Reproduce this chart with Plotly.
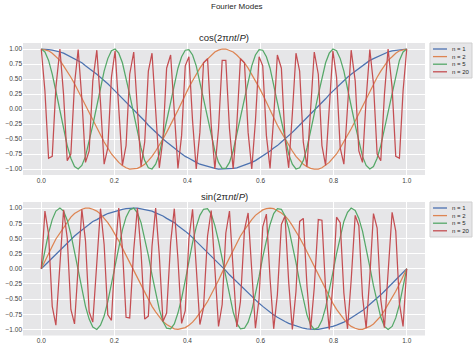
import plotly.graph_objects as go

# ---- data ----
t = [0.000,0.010,0.020,0.030,0.040,0.051,0.061,0.071,0.081,0.091,
     0.101,0.111,0.121,0.131,0.141,0.152,0.162,0.172,0.182,0.192,
     0.202,0.212,0.222,0.232,0.242,0.253,0.263,0.273,0.283,0.293,
     0.303,0.313,0.323,0.333,0.343,0.354,0.364,0.374,0.384,0.394,
     0.404,0.414,0.424,0.434,0.444,0.455,0.465,0.475,0.485,0.495,
     0.505,0.515,0.525,0.535,0.545,0.556,0.566,0.576,0.586,0.596,
     0.606,0.616,0.626,0.636,0.646,0.657,0.667,0.677,0.687,0.697,
     0.707,0.717,0.727,0.737,0.747,0.758,0.768,0.778,0.788,0.798,
     0.808,0.818,0.828,0.838,0.848,0.859,0.869,0.879,0.889,0.899,
     0.909,0.919,0.929,0.939,0.949,0.960,0.970,0.980,0.990,1.000]

cos_n1 = [1.00,1.00,0.99,0.98,0.97,0.95,0.93,0.90,0.87,0.84,
          0.81,0.77,0.72,0.68,0.63,0.58,0.53,0.47,0.42,0.36,
          0.30,0.24,0.17,0.11,0.05,-0.02,-0.08,-0.14,-0.20,-0.27,
          -0.33,-0.39,-0.44,-0.50,-0.55,-0.61,-0.65,-0.70,-0.75,-0.79,
          -0.82,-0.86,-0.89,-0.92,-0.94,-0.96,-0.98,-0.99,-1.00,-1.00,
          -1.00,-1.00,-0.99,-0.98,-0.96,-0.94,-0.92,-0.89,-0.86,-0.82,
          -0.79,-0.75,-0.70,-0.65,-0.61,-0.55,-0.50,-0.44,-0.39,-0.33,
          -0.27,-0.20,-0.14,-0.08,-0.02,0.05,0.11,0.17,0.24,0.30,
          0.36,0.42,0.47,0.53,0.58,0.63,0.68,0.72,0.77,0.81,
          0.84,0.87,0.90,0.93,0.95,0.97,0.98,0.99,1.00,1.00]

cos_n2 = [1.00,0.99,0.97,0.93,0.87,0.81,0.72,0.63,0.53,0.42,0.30,0.17,0.05,-0.08,-0.20,-0.33,-0.44,-0.55,-0.65,-0.75,-0.82,-0.89,-0.94,-0.98,-1.00,
          -1.00,-0.99,-0.96,-0.92,-0.86,-0.79,-0.70,-0.61,-0.50,-0.39,-0.27,-0.14,-0.02,0.11,0.24,0.36,0.47,0.58,0.68,0.77,0.84,0.90,0.95,0.98,1.00,
          1.00,0.98,0.95,0.90,0.84,0.77,0.68,0.58,0.47,0.36,0.24,0.11,-0.02,-0.14,-0.27,-0.39,-0.50,-0.61,-0.70,-0.79,-0.86,-0.92,-0.96,-0.99,-1.00,
          -1.00,-0.98,-0.94,-0.89,-0.82,-0.75,-0.65,-0.55,-0.44,-0.33,-0.20,-0.08,0.05,0.17,0.30,0.42,0.53,0.63,0.72,0.81,0.87,0.93,0.97,0.99,1.00]

cos_n5 = [1.00,0.95,0.81,0.58,0.30,-0.02,-0.33,-0.61,-0.82,-0.96,-1.00,-0.94,-0.79,-0.55,-0.27,0.05,0.36,0.63,0.84,0.97,
          1.00,0.93,0.77,0.53,0.24,-0.08,-0.39,-0.65,-0.86,-0.98,-1.00,-0.92,-0.75,-0.50,-0.20,0.11,0.42,0.68,0.87,0.98,
          0.99,0.90,0.72,0.47,0.17,-0.14,-0.44,-0.70,-0.89,-0.99,-0.99,-0.89,-0.70,-0.44,-0.14,0.17,0.47,0.72,0.90,0.99,
          0.98,0.87,0.68,0.42,0.11,-0.20,-0.50,-0.75,-0.92,-1.00,-0.98,-0.86,-0.65,-0.39,-0.08,0.24,0.53,0.77,0.93,1.00,
          0.97,0.84,0.63,0.36,0.05,-0.27,-0.55,-0.79,-0.94,-1.00,-0.96,-0.82,-0.61,-0.33,-0.02,0.30,0.58,0.81,0.95,1.00]

cos_n20 = [1.00,0.30,-0.82,-0.79,0.36,
           1.00,0.24,-0.86,-0.75,0.42,
           0.99,0.17,-0.89,-0.70,0.47,
           0.98,0.11,-0.92,-0.65,0.53,
           0.97,0.05,-0.94,-0.61,0.58,
           0.95,-0.02,-0.96,-0.55,0.63,
           0.93,-0.08,-0.98,-0.50,0.68,
           0.90,-0.14,-0.99,-0.44,0.72,
           0.87,-0.20,-1.00,-0.39,0.77,
           0.84,-0.27,-1.00,-0.33,0.81,
           0.81,-0.33,-1.00,-0.27,0.84,
           0.77,-0.39,-1.00,-0.20,0.87,
           0.72,-0.44,-0.99,-0.14,0.90,
           0.68,-0.50,-0.98,-0.08,0.93,
           0.63,-0.55,-0.96,-0.02,0.95,
           0.58,-0.61,-0.94,0.05,0.97,
           0.53,-0.65,-0.92,0.11,0.98,
           0.47,-0.70,-0.89,0.17,0.99,
           0.42,-0.75,-0.86,0.24,1.00,
           0.36,-0.79,-0.82,0.30,1.00]

sin_n1 = [0.00,0.06,0.13,0.19,0.25,0.31,0.37,0.43,0.49,0.54,
          0.59,0.64,0.69,0.73,0.78,0.81,0.85,0.88,0.91,0.93,
          0.95,0.97,0.98,0.99,1.00,1.00,1.00,0.99,0.98,0.96,
          0.95,0.92,0.90,0.87,0.83,0.80,0.76,0.71,0.67,0.62,
          0.57,0.51,0.46,0.40,0.34,0.28,0.22,0.16,0.10,0.03,
          -0.03,-0.10,-0.16,-0.22,-0.28,-0.34,-0.40,-0.46,-0.51,-0.57,
          -0.62,-0.67,-0.71,-0.76,-0.80,-0.83,-0.87,-0.90,-0.92,-0.95,
          -0.96,-0.98,-0.99,-1.00,-1.00,-1.00,-0.99,-0.98,-0.97,-0.95,
          -0.93,-0.91,-0.88,-0.85,-0.81,-0.78,-0.73,-0.69,-0.64,-0.59,
          -0.54,-0.49,-0.43,-0.37,-0.31,-0.25,-0.19,-0.13,-0.06,0.00]

sin_n2 = [0.00,0.13,0.25,0.37,0.49,0.59,0.69,0.78,0.85,0.91,0.95,0.98,1.00,1.00,0.98,0.95,0.90,0.83,0.76,0.67,0.57,0.46,0.34,0.22,0.10,
          -0.03,-0.16,-0.28,-0.40,-0.51,-0.62,-0.71,-0.80,-0.87,-0.92,-0.96,-0.99,-1.00,-0.99,-0.97,-0.93,-0.88,-0.81,-0.73,-0.64,-0.54,-0.43,-0.31,-0.19,-0.06,
          0.06,0.19,0.31,0.43,0.54,0.64,0.73,0.81,0.88,0.93,0.97,0.99,1.00,0.99,0.96,0.92,0.87,0.80,0.71,0.62,0.51,0.40,0.28,0.16,0.03,
          -0.10,-0.22,-0.34,-0.46,-0.57,-0.67,-0.76,-0.83,-0.90,-0.95,-0.98,-1.00,-1.00,-0.98,-0.95,-0.91,-0.85,-0.78,-0.69,-0.59,-0.49,-0.37,-0.25,-0.13,0.00]

sin_n5 = [0.00,0.31,0.59,0.81,0.95,1.00,0.95,0.80,0.57,0.28,-0.03,-0.34,-0.62,-0.83,-0.96,-1.00,-0.93,-0.78,-0.54,-0.25,
          0.06,0.37,0.64,0.85,0.97,1.00,0.92,0.76,0.51,0.22,-0.10,-0.40,-0.67,-0.87,-0.98,-0.99,-0.91,-0.73,-0.49,-0.19,
          0.13,0.43,0.69,0.88,0.98,0.99,0.90,0.71,0.46,0.16,-0.16,-0.46,-0.71,-0.90,-0.99,-0.98,-0.88,-0.69,-0.43,-0.13,
          0.19,0.49,0.73,0.91,0.99,0.98,0.87,0.67,0.40,0.10,-0.22,-0.51,-0.76,-0.92,-1.00,-0.97,-0.85,-0.64,-0.37,-0.06,
          0.25,0.54,0.78,0.93,1.00,0.96,0.83,0.62,0.34,0.03,-0.28,-0.57,-0.80,-0.95,-1.00,-0.95,-0.81,-0.59,-0.31,0.00]

sin_n20 = [0.00,0.95,0.57,-0.62,-0.93,
           0.06,0.97,0.51,-0.67,-0.91,
           0.13,0.98,0.46,-0.71,-0.88,
           0.19,0.99,0.40,-0.76,-0.85,
           0.25,1.00,0.34,-0.80,-0.81,
           0.31,1.00,0.28,-0.83,-0.78,
           0.37,1.00,0.22,-0.87,-0.73,
           0.43,0.99,0.16,-0.90,-0.69,
           0.49,0.98,0.10,-0.92,-0.64,
           0.54,0.96,0.03,-0.95,-0.59,
           0.59,0.95,-0.03,-0.96,-0.54,
           0.64,0.92,-0.10,-0.98,-0.49,
           0.69,0.90,-0.16,-0.99,-0.43,
           0.73,0.87,-0.22,-1.00,-0.37,
           0.78,0.83,-0.28,-1.00,-0.31,
           0.81,0.80,-0.34,-1.00,-0.25,
           0.85,0.76,-0.40,-0.99,-0.19,
           0.88,0.71,-0.46,-0.98,-0.13,
           0.91,0.67,-0.51,-0.97,-0.06,
           0.93,0.62,-0.57,-0.95,0.00]

series_names = ["n = 1", "n = 2", "n = 5", "n = 20"]
cos_series = [cos_n1, cos_n2, cos_n5, cos_n20]
sin_series = [sin_n1, sin_n2, sin_n5, sin_n20]
colors = ["#4C72B0", "#DD8452", "#55A868", "#C44E52"]

x_ticks = [0.0, 0.2, 0.4, 0.6, 0.8, 1.0]
y_ticks = [-1.00, -0.75, -0.50, -0.25, 0.00, 0.25, 0.50, 0.75, 1.00]

W, H = 474, 349
BG = "#E6E6E8"
FONT = "Liberation Sans, Arial, DejaVu Sans, sans-serif"

fig = go.Figure()
for name, ys, c in zip(series_names, cos_series, colors):
    fig.add_trace(go.Scatter(x=t, y=ys, mode="lines", name=name,
                             line=dict(color=c, width=1.25),
                             xaxis="x", yaxis="y", showlegend=False))
for name, ys, c in zip(series_names, sin_series, colors):
    fig.add_trace(go.Scatter(x=t, y=ys, mode="lines", name=name,
                             line=dict(color=c, width=1.25),
                             xaxis="x2", yaxis="y2", showlegend=False))

xdom = [23 / W, 425 / W]
ydom1 = [1 - 175 / H, 1 - 43 / H]
ydom2 = [1 - 335.5 / H, 1 - 202 / H]

axis_common = dict(showgrid=True, gridcolor="white", gridwidth=1,
                   zeroline=False, showline=False, ticks="", automargin=False,
                   tickfont=dict(size=6.5, color="#404040", family=FONT))

# hand-drawn legends (compact, matplotlib-like)
shapes = []
annotations = [
    dict(text="Fourier Modes", x=0.5, y=1 - 7 / H, xref="paper", yref="paper",
         showarrow=False, xanchor="center", yanchor="middle",
         font=dict(size=8, color="#262626", family=FONT)),
    dict(text="cos(2π<i>nt</i>/<i>P</i>)", x=(xdom[0] + xdom[1]) / 2, y=1 - 37 / H,
         xref="paper", yref="paper", showarrow=False,
         xanchor="center", yanchor="middle",
         font=dict(size=9.5, color="#262626", family=FONT)),
    dict(text="sin(2π<i>nt</i>/<i>P</i>)", x=(xdom[0] + xdom[1]) / 2, y=1 - 196 / H,
         xref="paper", yref="paper", showarrow=False,
         xanchor="center", yanchor="middle",
         font=dict(size=9.5, color="#262626", family=FONT)),
]
for top in (43, 202):
    x0, x1 = 430, 472
    shapes.append(dict(type="rect", xref="paper", yref="paper",
                       x0=x0 / W, x1=x1 / W, y0=1 - (top + 35) / H, y1=1 - top / H,
                       fillcolor=BG, line=dict(color="#CFCFCF", width=1), layer="above"))
    for i, (name, c) in enumerate(zip(series_names, colors)):
        yy = top + 6 + i * 7.6
        shapes.append(dict(type="line", xref="paper", yref="paper",
                           x0=433 / W, x1=447 / W, y0=1 - yy / H, y1=1 - yy / H,
                           line=dict(color=c, width=1.3), layer="above"))
        annotations.append(dict(text=name, x=450 / W, y=1 - yy / H,
                                xref="paper", yref="paper", showarrow=False,
                                xanchor="left", yanchor="middle",
                                font=dict(size=6, color="#262626", family=FONT)))

fig.update_layout(
    width=W, height=H,
    margin=dict(l=0, r=0, t=0, b=0, autoexpand=False),
    paper_bgcolor="white", plot_bgcolor=BG,
    font=dict(family=FONT, color="#262626"),
    showlegend=False,
    xaxis=dict(domain=xdom, anchor="y", range=[-0.05, 1.05],
               tickvals=x_ticks, tickformat=".1f", **axis_common),
    yaxis=dict(domain=ydom1, anchor="x", range=[-1.1, 1.1],
               tickvals=y_ticks, tickformat=".2f", **axis_common),
    xaxis2=dict(domain=xdom, anchor="y2", range=[-0.05, 1.05],
                tickvals=x_ticks, tickformat=".1f", **axis_common),
    yaxis2=dict(domain=ydom2, anchor="x2", range=[-1.1, 1.1],
                tickvals=y_ticks, tickformat=".2f", **axis_common),
    shapes=shapes,
    annotations=annotations,
)

fig.write_html("out.html")
